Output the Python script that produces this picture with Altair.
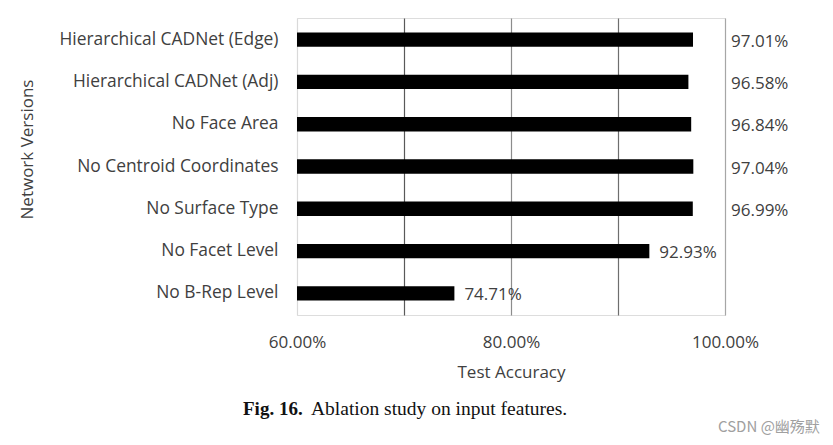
import altair as alt
import pandas as pd

# ---- data ----
versions = [
    "Hierarchical CADNet (Edge)",
    "Hierarchical CADNet (Adj)",
    "No Face Area",
    "No Centroid Coordinates",
    "No Surface Type",
    "No Facet Level",
    "No B-Rep Level",
]
accuracy = [0.9701, 0.9658, 0.9684, 0.9704, 0.9699, 0.9293, 0.7471]
x_ticks = [0.6, 0.7, 0.8, 0.9, 1.0]
caption_bold = ["Fig. 16."]
caption_text = ["Ablation study on input features."]
watermark = ["CSDN @幽殇默"]

df = pd.DataFrame({"name": versions, "acc": accuracy})

FONT = "Open Sans"
TXT = "#404040"

grid_color = {
    "condition": [
        {"test": "abs(datum.value - 0.6) < 0.001", "value": "#d9d9d9"},
        {"test": "abs(datum.value - 0.7) < 0.001", "value": "#595959"},
        {"test": "abs(datum.value - 0.8) < 0.001", "value": "#8c8c8c"},
        {"test": "abs(datum.value - 0.9) < 0.001", "value": "#6e6e6e"},
    ],
    "value": "#a6a6a6",
}

x_enc = alt.X(
    "acc:Q",
    scale=alt.Scale(domain=[0.6, 1.0], zero=False, nice=False),
    axis=alt.Axis(
        values=x_ticks,
        format=".2%",
        labelExpr="round(datum.value * 100) % 20 == 0 ? datum.label : ''",
        labelFlush=False,
        labelOverlap=False,
        ticks=False,
        domain=False,
        grid=True,
        gridColor=grid_color,
        gridWidth=1.2,
        labelFont=FONT,
        labelFontSize=17,
        labelColor=TXT,
        labelPadding=19,
        title="Test Accuracy",
        titleFont=FONT,
        titleFontSize=17,
        titleFontWeight="normal",
        titleColor=TXT,
        titleY=57,
        titleBaseline="middle",
    ),
)

y_enc = alt.Y(
    "name:N",
    sort=versions,
    scale=alt.Scale(paddingInner=0.66, paddingOuter=0.34),
    axis=alt.Axis(
        ticks=False,
        domain=False,
        grid=False,
        labelFont=FONT,
        labelFontSize=17.4,
        labelColor=TXT,
        labelPadding=19,
        labelLimit=400,
        title="Network Versions",
        titleFont=FONT,
        titleFontSize=17,
        titleFontWeight="normal",
        titleColor=TXT,
        titleX=-270,
        titleY=131,
        titleBaseline="middle",
        titleAlign="center",
    ),
)

base = alt.Chart(df)

bars = base.mark_bar(color="black").encode(
    y=y_enc,
    x=x_enc,
    x2=alt.datum(0.6),
)

labels_high = (
    base.transform_filter("datum.acc > 0.95")
    .transform_calculate(lx="1.0")
    .mark_text(align="left", baseline="middle", dx=6, dy=2, font=FONT, fontSize=17, color=TXT)
    .encode(
        y=alt.Y("name:N", sort=versions),
        x=alt.X("lx:Q"),
        text=alt.Text("acc:Q", format=".2%"),
    )
)

labels_low = (
    base.transform_filter("datum.acc <= 0.95")
    .mark_text(align="left", baseline="middle", dx=10, dy=2, font=FONT, fontSize=17, color=TXT)
    .encode(
        y=alt.Y("name:N", sort=versions),
        x=alt.X("acc:Q"),
        text=alt.Text("acc:Q", format=".2%"),
    )
)

cap1 = alt.Chart(pd.DataFrame({"t": caption_bold})).mark_text(
    align="left", baseline="alphabetic", font="Liberation Serif",
    fontSize=19, fontWeight="bold", color="#111111"
).encode(x=alt.value(-54), y=alt.value(397), text="t:N")

cap2 = alt.Chart(pd.DataFrame({"t": caption_text})).mark_text(
    align="left", baseline="alphabetic", font="Liberation Serif",
    fontSize=19.5, color="#111111"
).encode(x=alt.value(14), y=alt.value(397), text="t:N")

wm = alt.Chart(pd.DataFrame({"t": watermark})).mark_text(
    align="left", baseline="alphabetic", font="Noto Sans CJK SC",
    fontSize=15, color="#a0a0a0"
).encode(x=alt.value(421), y=alt.value(414), text="t:N")

chart = (
    alt.layer(bars, labels_high, labels_low, cap1, cap2, wm)
    .properties(
        width=428,
        height=297,
        autosize=alt.AutoSizeParams(type="none"),
        padding={"left": 289, "top": 10, "right": 100, "bottom": 122},
    )
    .configure_view(stroke=None)
    .configure(background="white")
)

chart.save("out.html", embed_options={"renderer": "svg", "actions": False})
